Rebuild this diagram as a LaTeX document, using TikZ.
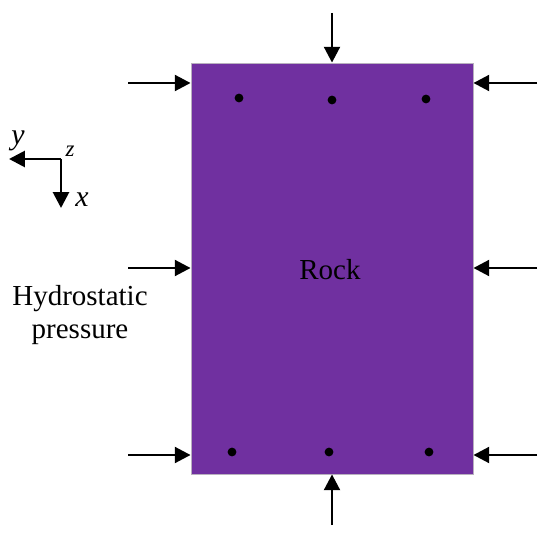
\documentclass[tikz,border=0pt]{standalone}
\usepackage{fontspec}
\setmainfont{Liberation Serif}
\usepackage{tikz}
\usetikzlibrary{arrows.meta, positioning, calc}
\definecolor{rockpurple}{HTML}{7030A0}
\definecolor{rockedge}{HTML}{B8B0BE}

\begin{document}
\begin{tikzpicture}[
    x=0.02cm, y=-0.02cm,
    rockbox/.style={rectangle, draw=rockedge, line width=0.5pt, fill=rockpurple, minimum width=5.64cm, minimum height=8.22cm, inner sep=0pt},
    load/.style={-{Triangle[length=9pt, width=9pt]}, line width=1.6pt},
    axis/.style={-{Triangle[length=9pt, width=9pt]}, line width=1.6pt},
    gauge/.style={circle, fill=black, inner sep=0pt, minimum size=5pt},
    label/.style={font=\fontsize{16.5}{19}\selectfont, align=center}
]
\useasboundingbox (0,0) rectangle (550,536);

% Rock sample
\node[rockbox] (rock) at (332,268.5) {};
\node[label] (rocktext) at (330,270) {Rock};

% Measuring points
\node[gauge] (g1) at (239,98) {};
\node[gauge] (g2) at (332,100) {};
\node[gauge] (g3) at (426,99) {};
\node[gauge] (g4) at (232,452) {};
\node[gauge] (g5) at (329,452) {};
\node[gauge] (g6) at (429,452) {};

% Axial load
\coordinate (ntail) at (332,13);
\coordinate (stail) at (332,525);
\draw[load] (ntail) -- (rock.north);
\draw[load] (stail) -- (rock.south);

% Confining load
\foreach \i/\yy in {1/83, 2/268, 3/455} {
    \coordinate (wtail\i) at (128,\yy);
    \coordinate (whead\i) at (rock.west |- wtail\i);
    \coordinate (etail\i) at (537,\yy);
    \coordinate (ehead\i) at (rock.east |- etail\i);
    \draw[load] (wtail\i) -- (whead\i);
    \draw[load] (etail\i) -- (ehead\i);
}

\node[label] (hydro) at (80,315) {Hydrostatic\\pressure};

% Axes
\coordinate (origin) at (61,159);
\coordinate (yend) at (9,159);
\coordinate (xend) at (61,208);
\draw[axis] (origin) -- (yend);
\draw[axis] (origin) -- (xend);
\node[font=\fontsize{17}{19}\selectfont\itshape] (ylab) at (18,141) {y};
\node[font=\fontsize{13}{15}\selectfont\itshape] (zlab) at (70,151) {z};
\node[font=\fontsize{17}{19}\selectfont\itshape] (xlab) at (82,200) {x};

\end{tikzpicture}
\end{document}
